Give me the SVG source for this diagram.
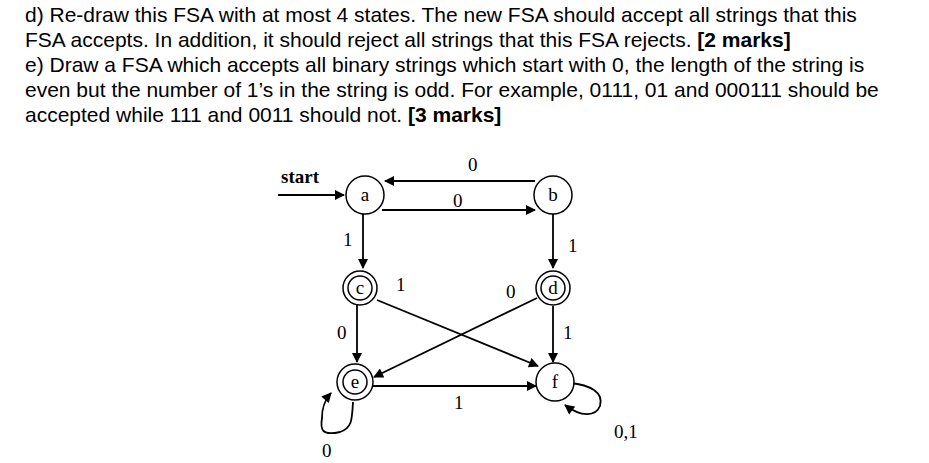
<svg xmlns="http://www.w3.org/2000/svg" width="929" height="463" viewBox="0 0 929 463">
<style>
.h{font-family:"Liberation Sans",Arial,sans-serif;font-size:21px;fill:#000}
.l{font-family:"Liberation Serif","Times New Roman",serif;font-size:19px;fill:#000}
.s{fill:#fff;stroke:#000;stroke-width:1.5}
.e{fill:none;stroke:#000;stroke-width:1.8}
</style>
<defs><marker id="ar2" viewBox="0 0 10 10" refX="9" refY="5" markerWidth="12" markerHeight="10" orient="auto" markerUnits="userSpaceOnUse"><path d="M0,0L10,5L0,10z" fill="#000"/></marker></defs>
<rect width="929" height="463" fill="#fff"/>
<text class="h" x="25" y="22">d) Re-draw this FSA with at most 4 states. The new FSA should accept all strings that this</text>
<text class="h" x="25" y="47">FSA accepts. In addition, it should reject all strings that this FSA rejects. <tspan font-weight="bold">[2 marks]</tspan></text>
<text class="h" x="25" y="72">e) Draw a FSA which accepts all binary strings which start with 0, the length of the string is</text>
<text class="h" x="25" y="97">even but the number of 1’s in the string is odd. For example, 0111, 01 and 000111 should be</text>
<text class="h" x="25" y="122">accepted while 111 and 0011 should not. <tspan font-weight="bold">[3 marks]</tspan></text>
<g id="edges" class="e">
<path d="M278,195H344" marker-end="url(#ar2)"/>
<path d="M535,181H385" marker-end="url(#ar2)"/>
<path d="M382,210H535" marker-end="url(#ar2)"/>
<path d="M363,214V268" marker-end="url(#ar2)"/>
<path d="M553,214V268" marker-end="url(#ar2)"/>
<path d="M357,305V362" marker-end="url(#ar2)"/>
<path d="M553,306V362" marker-end="url(#ar2)"/>
<path d="M377,300L538,366" marker-end="url(#ar2)"/>
<path d="M537,298L374,377" marker-end="url(#ar2)"/>
<path d="M373,386H536" marker-end="url(#ar2)"/>
<path d="M353,402C352,420 352,428 340,432C322,436 320,430 322,418C322,410 323,402 331,393" marker-end="url(#ar2)"/>
<path d="M570,383C590,385 604,392 600,406C596,416 582,418 565,405" marker-end="url(#ar2)"/>
</g>
<g id="start"><text class="l" x="281" y="183" font-weight="bold">start</text></g>
<g id="a"><circle class="s" cx="365" cy="195" r="19"/><text class="l" x="365" y="201" text-anchor="middle">a</text></g>
<g id="b"><circle class="s" cx="553" cy="195" r="19"/><text class="l" x="553" y="201" text-anchor="middle">b</text></g>
<g id="c"><circle class="s" cx="360" cy="288" r="17"/><circle class="s" cx="360" cy="288" r="12"/><text class="l" x="360" y="294" text-anchor="middle">c</text></g>
<g id="d"><circle class="s" cx="553" cy="288" r="17"/><circle class="s" cx="553" cy="288" r="12"/><text class="l" x="553" y="294" text-anchor="middle">d</text></g>
<g id="e"><circle class="s" cx="355" cy="382" r="18"/><circle class="s" cx="355" cy="382" r="12"/><text class="l" x="355" y="388" text-anchor="middle">e</text></g>
<g id="f"><circle class="s" cx="555" cy="382" r="19"/><text class="l" x="555" y="388" text-anchor="middle">f</text></g>
<g id="labels">
<text class="l" x="468" y="171">0</text>
<text class="l" x="453" y="207">0</text>
<text class="l" x="343" y="246">1</text>
<text class="l" x="568" y="252">1</text>
<text class="l" x="396" y="291">1</text>
<text class="l" x="506" y="298">0</text>
<text class="l" x="337" y="339">0</text>
<text class="l" x="563" y="339">1</text>
<text class="l" x="454" y="409">1</text>
<text class="l" x="614" y="438">0,1</text>
<text class="l" x="322" y="457">0</text>
</g>
</svg>
